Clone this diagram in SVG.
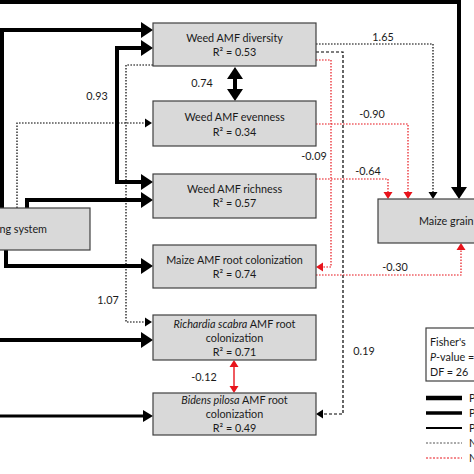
<svg xmlns="http://www.w3.org/2000/svg" width="474" height="474" viewBox="0 0 474 474">
<style>
.box{fill:#d9d9d9;stroke:#404040;stroke-width:1.2}
.t{font-family:Lato,"Liberation Sans",sans-serif;font-size:10.8px;fill:#1a1a1a;text-anchor:middle}
.lab{font-family:Lato,"Liberation Sans",sans-serif;font-size:10.8px;fill:#1a1a1a;text-anchor:middle}
.lg{font-family:Lato,"Liberation Sans",sans-serif;font-size:10.8px;fill:#1a1a1a}
.thick{fill:none;stroke:#000;stroke-width:4}
.med{fill:none;stroke:#000;stroke-width:3}
.dot{fill:none;stroke:#000;stroke-width:1.2;stroke-dasharray:1.6 1.4}
.dash{fill:none;stroke:#000;stroke-width:1.2;stroke-dasharray:3 2}
.red{fill:none;stroke:#e8141c;stroke-width:1.2;stroke-dasharray:1.6 1.4}
.redsolid{fill:none;stroke:#e8141c;stroke-width:1.4}
</style>
<defs>
<marker id="aT" markerUnits="userSpaceOnUse" markerWidth="12" markerHeight="16" refX="0" refY="8" orient="auto-start-reverse" overflow="visible"><path d="M0,0 L12,8 L0,16 z" fill="#000"/></marker>
<marker id="aM" markerUnits="userSpaceOnUse" markerWidth="10" markerHeight="12" refX="0" refY="6" orient="auto-start-reverse" overflow="visible"><path d="M0,0 L10,6 L0,12 z" fill="#000"/></marker>
<marker id="aS" markerUnits="userSpaceOnUse" markerWidth="7" markerHeight="9" refX="0" refY="4.5" orient="auto-start-reverse" overflow="visible"><path d="M0,0 L7,4.5 L0,9 z" fill="#000"/></marker>
<marker id="aR" markerUnits="userSpaceOnUse" markerWidth="7" markerHeight="9" refX="0" refY="4.5" orient="auto-start-reverse" overflow="visible"><path d="M0,0 L7,4.5 L0,9 z" fill="#e8141c"/></marker>
</defs>
<g id="connectors">
<path class="thick" d="M-5 210 V2 H459 V187" marker-end="url(#aT)"/>
<path class="thick" d="M2 210 V30 H141" marker-end="url(#aT)"/>
<path class="thick" d="M27 209 V200 H141" marker-end="url(#aT)"/>
<path class="thick" d="M6 249 V266 H141" marker-end="url(#aT)"/>
<path class="thick" d="M-5 340 H141" marker-end="url(#aT)"/>
<path class="med" d="M-5 416 H143" marker-end="url(#aM)"/>
<path class="thick" d="M141 48 H117 V182 H141" marker-start="url(#aT)" marker-end="url(#aT)"/>
<path class="thick" d="M235 79 V89" marker-start="url(#aT)" marker-end="url(#aT)"/>
<path class="dot" d="M153 65 H126 V322 H145" marker-end="url(#aS)"/>
<path class="dot" d="M17 208 V123 H145" marker-end="url(#aS)"/>
<path class="dot" d="M316 44 H433 V192" marker-end="url(#aS)"/>
<path class="dash" d="M316 52 H343 V414 H323" marker-end="url(#aS)"/>
<path class="red" d="M316 60 H331 V267 H323" marker-end="url(#aR)"/>
<path class="red" d="M316 124 H408 V192" marker-end="url(#aR)"/>
<path class="red" d="M316 179 H388 V192" marker-end="url(#aR)"/>
<path class="red" d="M316 275 H461 V250" marker-end="url(#aR)"/>
<path class="redsolid" d="M234 367 V386" marker-start="url(#aR)" marker-end="url(#aR)"/>
<text class="lab" x="97" y="100">0.93</text>
<text class="lab" x="202" y="87">0.74</text>
<text class="lab" x="383" y="41">1.65</text>
<text class="lab" x="372" y="118">-0.90</text>
<text class="lab" x="314" y="160">-0.09</text>
<text class="lab" x="368" y="175">-0.64</text>
<text class="lab" x="395" y="271">-0.30</text>
<text class="lab" x="108" y="304">1.07</text>
<text class="lab" x="364" y="355">0.19</text>
<text class="lab" x="204" y="381">-0.12</text>
</g>
<g id="cropping">
<rect class="box" x="-60" y="208" width="150" height="42"/>
<text class="lg" x="47" y="233" text-anchor="end">Cropping system</text>
</g>
<g id="diversity">
<rect class="box" x="153" y="23" width="163" height="43"/>
<text class="t" x="234.5" y="42">Weed AMF diversity</text>
<text class="t" x="234.5" y="56">R² = 0.53</text>
</g>
<g id="evenness">
<rect class="box" x="153" y="101" width="163" height="45"/>
<text class="t" x="234.5" y="121">Weed AMF evenness</text>
<text class="t" x="234.5" y="136">R² = 0.34</text>
</g>
<g id="richness">
<rect class="box" x="153" y="174" width="163" height="44"/>
<text class="t" x="234.5" y="193">Weed AMF richness</text>
<text class="t" x="234.5" y="207">R² = 0.57</text>
</g>
<g id="maizeamf">
<rect class="box" x="153" y="245" width="163" height="43"/>
<text class="t" x="234.5" y="264">Maize AMF root colonization</text>
<text class="t" x="234.5" y="278">R² = 0.74</text>
</g>
<g id="richardia">
<rect class="box" x="153" y="315" width="163" height="45"/>
<text class="t" x="234.5" y="328"><tspan font-style="italic">Richardia scabra</tspan> AMF root</text>
<text class="t" x="234.5" y="342">colonization</text>
<text class="t" x="234.5" y="356">R² = 0.71</text>
</g>
<g id="bidens">
<rect class="box" x="153" y="393" width="163" height="42"/>
<text class="t" x="234.5" y="404"><tspan font-style="italic">Bidens pilosa</tspan> AMF root</text>
<text class="t" x="234.5" y="418">colonization</text>
<text class="t" x="234.5" y="432">R² = 0.49</text>
</g>
<g id="maizegrain">
<rect class="box" x="378" y="199" width="120" height="44"/>
<text class="lg" x="419" y="225">Maize grain yield</text>
</g>
<g id="legend">
<rect x="426" y="328" width="70" height="53" fill="#fff" stroke="#404040" stroke-width="1.2"/>
<text class="lg" x="430" y="346">Fisher's</text>
<text class="lg" x="430" y="361"><tspan font-style="italic">P</tspan>-value = </text>
<text class="lg" x="430" y="376">DF = 26</text>
<line x1="426" y1="398" x2="462" y2="398" stroke="#000" stroke-width="4.5"/>
<line x1="426" y1="413" x2="462" y2="413" stroke="#000" stroke-width="3.5"/>
<line x1="426" y1="428" x2="462" y2="428" stroke="#000" stroke-width="1.8"/>
<line x1="426" y1="443" x2="462" y2="443" stroke="#555" stroke-width="1" stroke-dasharray="2 1.5"/>
<line x1="426" y1="458" x2="462" y2="458" stroke="#e8141c" stroke-width="1" stroke-dasharray="2 1.5"/>
<text class="lg" x="469" y="402">P &lt; 0.001</text>
<text class="lg" x="469" y="417">P &lt; 0.01</text>
<text class="lg" x="469" y="432">P &lt; 0.05</text>
<text class="lg" x="469" y="447">Non-significant</text>
<text class="lg" x="469" y="462">Non-significant</text>
</g>
</svg>
